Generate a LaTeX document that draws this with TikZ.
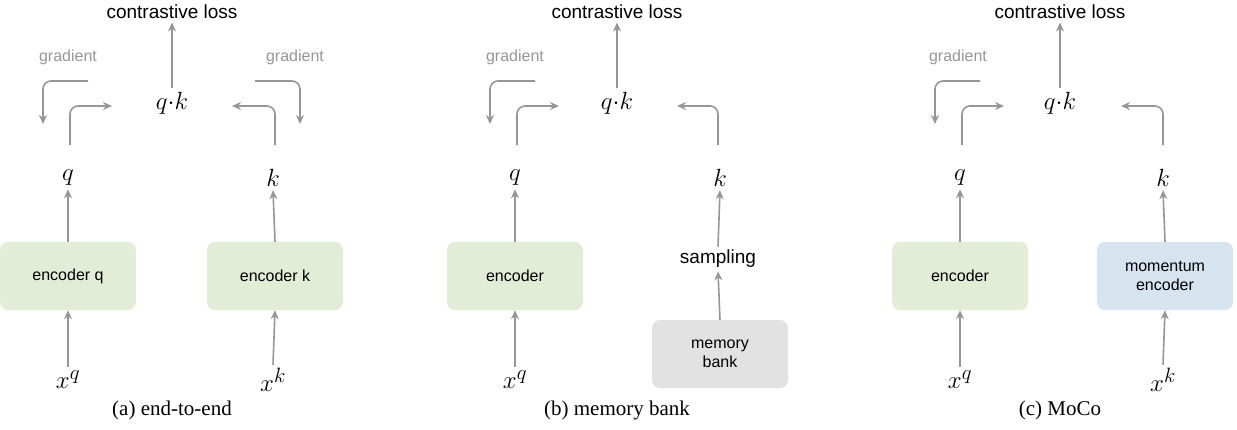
\documentclass[tikz,border=0pt]{standalone}
\usepackage{fontspec}
\setmainfont{Liberation Sans}
\newfontfamily\capfont{Liberation Serif}
\usetikzlibrary{arrows.meta}
\definecolor{encg}{RGB}{226,236,214}
\definecolor{encb}{RGB}{214,228,240}
\definecolor{memg}{RGB}{226,226,226}
\definecolor{arr}{RGB}{150,150,150}
\begin{document}
\begin{tikzpicture}[x=1pt,y=-1pt,
  ar/.style={draw=arr,line width=1.6pt,-{Stealth[length=9pt,width=8pt]},rounded corners=8pt},
  box/.style={rounded corners=8pt,minimum width=136pt,minimum height=68pt,font=\fontsize{16}{19}\selectfont,align=center},
  mt/.style={font=\fontsize{30}{32}\selectfont},
  lbl/.style={font=\fontsize{19}{22}\selectfont},
  grad/.style={font=\fontsize{16}{19}\selectfont,text=arr},
  captxt/.style={font=\capfont\fontsize{21}{24}\selectfont}]
\useasboundingbox (0,0) rectangle (1237,429);
% ---- panel a
\node[lbl] (la) at (172,12) {contrastive loss};
\node[mt] (qka) at (172,103) {$q{\cdot}k$};
\node[mt] (qa) at (68,178) {$q$};
\node[mt] (ka) at (273,178) {$k$};
\node[box,fill=encg] (eqa) at (68,276) {encoder q};
\node[box,fill=encg] (eka) at (275,276) {encoder k};
\node[mt] (xqa) at (68,380) {$x^q$};
\node[mt] (xka) at (273,380) {$x^k$};
\node[grad] (gqa) at (68,57) {gradient};
\node[grad] (gka) at (295,57) {gradient};
\node[captxt] (ca) at (172,410) {(a) end-to-end};
\draw[ar] (qka.north) -- (la.south);
\draw[ar] (xqa.north) -- (eqa.south);
\draw[ar] (xka.north) -- (eka.south);
\draw[ar] (eqa.north) -- (qa.south);
\draw[ar] (eka.north) -- (ka.south);
\coordinate (qa1) at (70,145); \coordinate (qa2) at (112,106);
\draw[ar] (qa1) |- (qa2);
\coordinate (ka1) at (275,145); \coordinate (ka2) at (232,106);
\draw[ar] (ka1) |- (ka2);
\coordinate (ga1) at (88,81); \coordinate (ga2) at (43,124);
\draw[ar] (ga1) -| (ga2);
\coordinate (gb1) at (255,81); \coordinate (gb2) at (300,124);
\draw[ar] (gb1) -| (gb2);
% ---- panel b
\node[lbl] (lb) at (617,12) {contrastive loss};
\node[mt] (qkb) at (617,103) {$q{\cdot}k$};
\node[mt] (qb) at (515,178) {$q$};
\node[mt] (kb) at (720,178) {$k$};
\node[box,fill=encg] (eqb) at (515,276) {encoder};
\node[lbl] (sb) at (718,259) {sampling};
\node[box,fill=memg] (mb) at (720,354) {memory\\bank};
\node[mt] (xqb) at (515,380) {$x^q$};
\node[grad] (gqb) at (515,57) {gradient};
\node[captxt] (cb) at (617,410) {(b) memory bank};
\draw[ar] (qkb.north) -- (lb.south);
\draw[ar] (xqb.north) -- (eqb.south);
\draw[ar] (eqb.north) -- (qb.south);
\draw[ar] (mb.north) -- (sb.south);
\draw[ar] (sb.north) -- (kb.south);
\coordinate (qb1) at (517,145); \coordinate (qb2) at (559,106);
\draw[ar] (qb1) |- (qb2);
\coordinate (kb1) at (718,145); \coordinate (kb2) at (677,106);
\draw[ar] (kb1) |- (kb2);
\coordinate (gc1) at (535,81); \coordinate (gc2) at (490,124);
\draw[ar] (gc1) -| (gc2);
% ---- panel c
\node[lbl] (lc) at (1060,12) {contrastive loss};
\node[mt] (qkc) at (1060,103) {$q{\cdot}k$};
\node[mt] (qc) at (960,178) {$q$};
\node[mt] (kc) at (1163,178) {$k$};
\node[box,fill=encg] (eqc) at (960,276) {encoder};
\node[box,fill=encb] (ekc) at (1165,276) {momentum\\encoder};
\node[mt] (xqc) at (960,380) {$x^q$};
\node[mt] (xkc) at (1163,380) {$x^k$};
\node[grad] (gqc) at (958,57) {gradient};
\node[captxt] (cc) at (1060,410) {(c) MoCo};
\draw[ar] (qkc.north) -- (lc.south);
\draw[ar] (xqc.north) -- (eqc.south);
\draw[ar] (xkc.north) -- (ekc.south);
\draw[ar] (eqc.north) -- (qc.south);
\draw[ar] (ekc.north) -- (kc.south);
\coordinate (qc1) at (962,145); \coordinate (qc2) at (1004,106);
\draw[ar] (qc1) |- (qc2);
\coordinate (kc1) at (1163,145); \coordinate (kc2) at (1121,106);
\draw[ar] (kc1) |- (kc2);
\coordinate (gd1) at (980,81); \coordinate (gd2) at (935,124);
\draw[ar] (gd1) -| (gd2);
\end{tikzpicture}
\end{document}
